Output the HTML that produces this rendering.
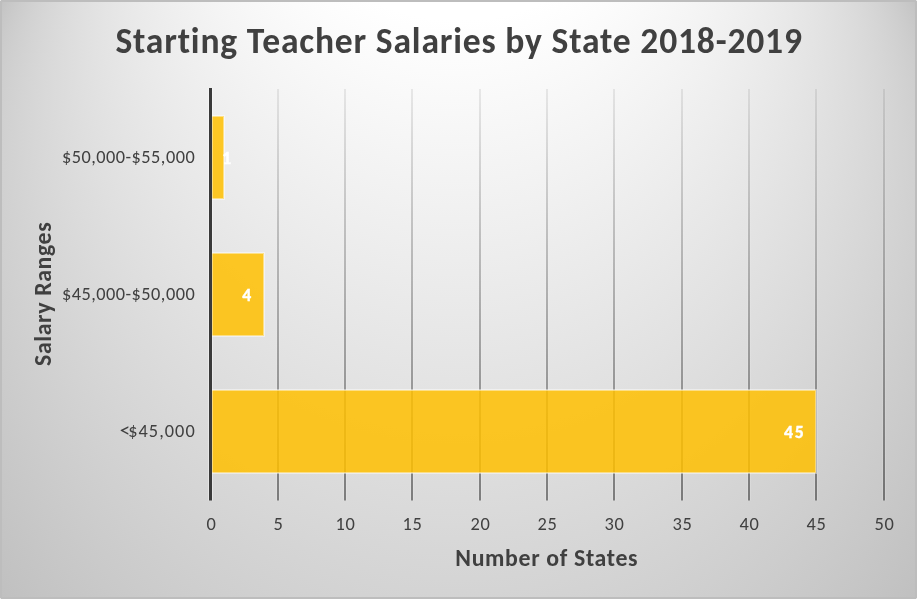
<!DOCTYPE html>
<html>
<head>
<meta charset="utf-8">
<style>
html,body{margin:0;padding:0;width:917px;height:599px;overflow:hidden;background:#ffffff;}
svg{display:block;}
text{font-family:Carlito,"Liberation Sans",sans-serif;font-variant-ligatures:none;font-feature-settings:"liga" 0,"clig" 0;}
</style>
</head>
<body>
<svg width="917" height="599" viewBox="0 0 917 599">
<defs>
<radialGradient id="bg" gradientUnits="userSpaceOnUse" fx="0" fy="0" fr="1" cx="0" cy="-1.4711" r="0.0001" gradientTransform="translate(458.5 306.528) scale(547.45 564.808)">
<stop offset="0" stop-color="#bfbfbf"/>
<stop offset="0.61" stop-color="#ffffff"/>
<stop offset="1" stop-color="#ffffff"/>
</radialGradient>
<linearGradient id="gh" gradientUnits="userSpaceOnUse" x1="0" y1="89" x2="0" y2="500.5">
<stop offset="0" stop-color="#fff" stop-opacity="0.03"/>
<stop offset="1" stop-color="#fff" stop-opacity="0.14"/>
</linearGradient>
<linearGradient id="gl" gradientUnits="userSpaceOnUse" x1="0" y1="89" x2="0" y2="500.5">
<stop offset="0" stop-color="#000" stop-opacity="0.075"/>
<stop offset="1" stop-color="#000" stop-opacity="0.43"/>
</linearGradient>
</defs>
<rect x="0" y="0" width="917" height="599" fill="url(#bg)"/>
<rect x="1" y="1" width="915" height="597" fill="none" stroke="#bdbdbd" stroke-width="2"/>
<g fill="#ffffff" fill-opacity="0.6">
<rect x="0" y="0" width="1" height="1"/><rect x="916" y="0" width="1" height="1"/>
<rect x="0" y="598" width="1" height="1"/><rect x="916" y="598" width="1" height="1"/>
</g>
<g fill="url(#gh)">
<rect x="276" y="89" width="1" height="411.5"/><rect x="279" y="89" width="1" height="411.5"/>
<rect x="343" y="89" width="1" height="411.5"/><rect x="346" y="89" width="1" height="411.5"/>
<rect x="410" y="89" width="1" height="411.5"/><rect x="413" y="89" width="1" height="411.5"/>
<rect x="478" y="89" width="1" height="411.5"/><rect x="481" y="89" width="1" height="411.5"/>
<rect x="545" y="89" width="1" height="411.5"/><rect x="548" y="89" width="1" height="411.5"/>
<rect x="612" y="89" width="1" height="411.5"/><rect x="615" y="89" width="1" height="411.5"/>
<rect x="680" y="89" width="1" height="411.5"/><rect x="683" y="89" width="1" height="411.5"/>
<rect x="747" y="89" width="1" height="411.5"/><rect x="750" y="89" width="1" height="411.5"/>
<rect x="814" y="89" width="1" height="411.5"/><rect x="817" y="89" width="1" height="411.5"/>
<rect x="882" y="89" width="1" height="411.5"/><rect x="885" y="89" width="1" height="411.5"/>
</g>
<g fill="url(#gl)">
<rect x="277" y="89" width="2" height="411.5"/>
<rect x="344" y="89" width="2" height="411.5"/>
<rect x="411" y="89" width="2" height="411.5"/>
<rect x="479" y="89" width="2" height="411.5"/>
<rect x="546" y="89" width="2" height="411.5"/>
<rect x="613" y="89" width="2" height="411.5"/>
<rect x="681" y="89" width="2" height="411.5"/>
<rect x="748" y="89" width="2" height="411.5"/>
<rect x="815" y="89" width="2" height="411.5"/>
<rect x="883" y="89" width="2" height="411.5"/>
</g>
<g fill="rgb(255,192,0)" fill-opacity="0.85" stroke="#ffffff" stroke-opacity="0.45" stroke-width="2">
<rect x="210.67" y="116" width="13.33" height="83"/>
<rect x="210.67" y="253" width="53.33" height="83"/>
<rect x="210.67" y="390" width="605.33" height="83"/>
</g>
<rect x="208" y="88" width="1" height="412.5" fill="#ffffff" fill-opacity="0.4"/>
<rect x="212" y="88" width="1" height="412.5" fill="#ffffff" fill-opacity="0.4"/>
<rect x="209" y="88" width="3" height="412.5" fill="#3a3a3a"/>
<text x="115.44" y="52.9" font-size="35.6px" font-weight="bold" fill="#404040" textLength="686.55" lengthAdjust="spacing">Starting Teacher Salaries by State 2018-2019</text>
<text x="61.88" y="162.6" font-size="18.3px" fill="#404040" textLength="132.82" lengthAdjust="spacing">$50,000-$55,000</text>
<text x="61.88" y="299.6" font-size="18.3px" fill="#404040" textLength="132.82" lengthAdjust="spacing">$45,000-$50,000</text>
<text font-size="18.3px" fill="#404040"><tspan x="119.65" y="437.3" font-size="21px">&lt;</tspan><tspan x="128.19" y="436.6" textLength="66.52" lengthAdjust="spacing">$45,000</tspan></text>
<text x="211.10" y="529.7" font-size="18.4px" fill="#404040" text-anchor="middle">0</text>
<text x="278.15" y="529.7" font-size="18.4px" fill="#404040" text-anchor="middle">5</text>
<text x="345.15" y="529.7" font-size="18.4px" fill="#404040" text-anchor="middle" textLength="19.32" lengthAdjust="spacing">10</text>
<text x="412.15" y="529.7" font-size="18.4px" fill="#404040" text-anchor="middle" textLength="19.32" lengthAdjust="spacing">15</text>
<text x="480.15" y="529.7" font-size="18.4px" fill="#404040" text-anchor="middle" textLength="19.32" lengthAdjust="spacing">20</text>
<text x="547.15" y="529.7" font-size="18.4px" fill="#404040" text-anchor="middle" textLength="19.32" lengthAdjust="spacing">25</text>
<text x="614.15" y="529.7" font-size="18.4px" fill="#404040" text-anchor="middle" textLength="19.32" lengthAdjust="spacing">30</text>
<text x="682.15" y="529.7" font-size="18.4px" fill="#404040" text-anchor="middle" textLength="19.32" lengthAdjust="spacing">35</text>
<text x="749.15" y="529.7" font-size="18.4px" fill="#404040" text-anchor="middle" textLength="19.32" lengthAdjust="spacing">40</text>
<text x="816.15" y="529.7" font-size="18.4px" fill="#404040" text-anchor="middle" textLength="19.32" lengthAdjust="spacing">45</text>
<text x="884.15" y="529.7" font-size="18.4px" fill="#404040" text-anchor="middle" textLength="19.32" lengthAdjust="spacing">50</text>
<text x="455.31" y="565.5" font-size="23.8px" font-weight="bold" fill="#404040" textLength="182.24" lengthAdjust="spacing">Number of States</text>
<text transform="translate(51.2 365.7) rotate(-90)" x="-0.24" y="0" font-size="23.8px" font-weight="bold" fill="#404040" textLength="143.59" lengthAdjust="spacing">Salary Ranges</text>
<text x="222.34" y="163.8" font-size="17.7px" font-weight="bold" fill="#ffffff" stroke="#ffffff" stroke-width="0.4">1</text>
<text x="242.20" y="300.7" font-size="17.7px" font-weight="bold" fill="#ffffff" stroke="#ffffff" stroke-width="0.4">4</text>
<text x="784.10" y="437.8" font-size="17.7px" font-weight="bold" fill="#ffffff" textLength="19.73" lengthAdjust="spacing" stroke="#ffffff" stroke-width="0.4">45</text>
</svg>
</body>
</html>
